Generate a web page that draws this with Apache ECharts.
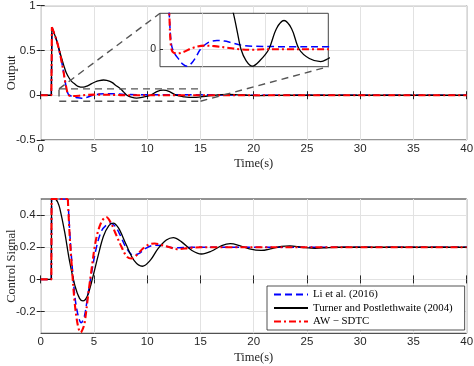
<!DOCTYPE html>
<html><head><meta charset="utf-8">
<script src="https://cdn.jsdelivr.net/npm/echarts@6/dist/echarts.min.js"></script>
<style>html,body{margin:0;padding:0;background:#fff}#c{width:474px;height:366px}</style>
</head><body><div id="c"></div>
<script>
// ---------- data ----------
const seriesNames = ['Li et al. (2016)', 'Turner and Postlethwaite (2004)', 'AW \u2212 SDTC'];
const timeTicks = [0, 5, 10, 15, 20, 25, 30, 35, 40];
const outputTicks = [-0.5, 0, 0.5, 1];
const controlTicks = [-0.2, 0, 0.2, 0.4];
const insetTicks = [0];
const insetXGrid = [5, 10];

const outputLi = [[0,0],[1,0],[1.05,0.76],[1.3,0.68],[1.5,0.61],[1.8,0.47],[2.1,0.29],[2.3,0.15],[2.45,0.06],[2.6,0.01],[2.8,-0.006],[3.2,-0.02],[3.5,-0.029],[3.85,-0.033],[4.2,-0.027],[4.5,-0.017],[4.9,0],[5.5,0.013],[6.2,0.017],[6.8,0.016],[7.3,0.013],[8.1,0.008],[9,0.006],[12,0.005],[15,0.005],[17,0.003],[20,0],[40,0]];
const outputTurner = [[0,0],[1,0],[1.05,0.76],[1.3,0.68],[1.5,0.61],[1.8,0.48],[2.0,0.40],[2.2,0.32],[2.4,0.25],[2.65,0.195],[2.9,0.155],[3.2,0.125],[3.5,0.10],[4.0,0.09],[4.4,0.105],[4.75,0.127],[5.1,0.148],[5.5,0.163],[5.9,0.17],[6.2,0.166],[6.5,0.155],[6.8,0.135],[7.0,0.115],[7.5,0.07],[7.8,0.035],[8.1,0.0],[8.5,-0.022],[9.0,-0.033],[9.6,-0.022],[10.3,0.0],[10.9,0.04],[11.5,0.056],[12.1,0.04],[12.7,0.0],[13.5,-0.018],[14.4,-0.024],[15,-0.018],[16,-0.005],[17,0.006],[17.6,0.008],[18.5,0.005],[19.5,0],[20.5,-0.004],[22,-0.002],[23,0],[40,0]];
const outputAW = [[0,0],[1,0],[1.05,0.76],[1.3,0.68],[1.5,0.61],[1.8,0.47],[2.1,0.29],[2.3,0.15],[2.45,0.06],[2.55,0.01],[2.7,-0.005],[3.1,-0.008],[3.6,-0.005],[4.2,0.002],[5.2,0.007],[6,0.006],[7,0.003],[8,0],[9,-0.001],[10,0],[40,0]];

const controlLi = [[0,0],[1,0],[1.02,0.5],[2.55,0.5],[2.62,0.42],[2.75,0.27],[2.9,0.13],[3.2,-0.1],[3.5,-0.22],[3.8,-0.27],[4.1,-0.23],[4.4,-0.11],[4.75,0.03],[5.2,0.19],[5.7,0.3],[6.2,0.34],[6.6,0.35],[7.0,0.33],[7.5,0.27],[8.0,0.2],[8.7,0.152],[9.2,0.16],[9.8,0.19],[10.6,0.212],[11.5,0.21],[12.5,0.197],[13.5,0.198],[15,0.2],[40,0.2]];
const controlTurner = [[0,0],[1,0],[1.02,0.5],[1.4,0.5],[1.6,0.48],[1.8,0.44],[2.25,0.295],[2.72,0.11],[3.2,-0.035],[3.65,-0.118],[3.97,-0.134],[4.4,-0.1],[4.9,0.016],[5.4,0.15],[5.9,0.27],[6.4,0.335],[6.8,0.35],[7.3,0.32],[8.0,0.22],[8.8,0.115],[9.55,0.082],[10.3,0.12],[11.0,0.19],[11.8,0.245],[12.45,0.26],[13.2,0.235],[14.2,0.18],[15.1,0.158],[16.0,0.175],[17.0,0.21],[17.8,0.222],[18.6,0.212],[19.6,0.19],[20.7,0.18],[21.7,0.192],[22.6,0.205],[23.4,0.208],[24.5,0.2],[25.8,0.193],[27,0.198],[28,0.2],[40,0.2]];
const controlAW = [[0,0],[1,0],[1.02,0.5],[2.55,0.5],[2.62,0.4],[2.75,0.24],[2.9,0.1],[3.2,-0.15],[3.5,-0.29],[3.75,-0.33],[4.0,-0.3],[4.15,-0.26],[4.45,-0.1],[4.75,0.05],[5.2,0.25],[5.7,0.357],[6.15,0.388],[6.6,0.35],[7.0,0.29],[7.5,0.215],[8.05,0.145],[8.5,0.13],[9.0,0.15],[9.6,0.192],[10.2,0.218],[10.7,0.223],[11.3,0.215],[12.1,0.2],[12.8,0.188],[14,0.196],[15,0.2],[40,0.2]];

// index from which each curve is drawn smoothed (the step before it stays sharp)
const outputSmoothFrom = [2, 2, 2];
const controlSmoothFrom = [3, 3, 3];

const zoomBox = [[1.72,0.071],[15,0.071],[15,-0.067],[1.72,-0.067],[1.72,0.071]];

// ---------- styles ----------
const AX = '#262626', GRIDC = '#e2e2e2';
const tickFont = {fontFamily: 'Liberation Sans', fontSize: 11.5, color: AX};
const nameFont = {fontFamily: 'Liberation Serif', fontSize: 12.5, color: AX};
const styles = [
  {color: '#0000ff', width: 1.5, type: [7, 4]},
  {color: '#000000', width: 1.3, type: 'solid'},
  {color: '#ff0000', width: 2.1, type: [7, 3, 2, 3]}
];
const inset = {left: 160, top: 13.3, width: 168.3, height: 53.4};

function xAx(grid, pos, main) {
  return {type: 'value', gridIndex: grid, position: pos, min: 0, max: 40, interval: 5,
    axisLine: {show: false}, axisTick: {show: true, inside: true, length: 4, lineStyle: {color: AX}},
    axisLabel: main ? Object.assign({show: true, margin: 2.5}, tickFont) : {show: false},
    splitLine: {show: main, lineStyle: {color: GRIDC, width: 1}},
    name: main ? 'Time(s)' : '', nameLocation: 'middle', nameGap: 17.5, nameMoveOverlap: false, nameTextStyle: nameFont};
}
function yAx(grid, pos, main, min, max, ticks, name) {
  return {type: 'value', gridIndex: grid, position: pos, min: min, max: max,
    axisLine: {show: false},
    axisTick: {show: true, inside: true, length: 4, customValues: ticks, lineStyle: {color: AX}},
    axisLabel: main ? Object.assign({show: true, margin: 5, customValues: ticks}, tickFont) : {show: false, customValues: ticks},
    splitLine: {show: main, lineStyle: {color: GRIDC, width: 1}},
    name: main ? name : '', nameLocation: 'middle', nameGap: 22, nameMoveOverlap: false, nameTextStyle: nameFont};
}
function lines(data, from, xi, yi, z) {
  const out = [];
  data.forEach((d, i) => {
    const base = {type: 'line', name: seriesNames[i], xAxisIndex: xi, yAxisIndex: yi,
      showSymbol: false, symbol: 'none', z: z, clip: true, animation: false, lineStyle: styles[i]};
    out.push(Object.assign({}, base, {data: d.slice(0, from[i] + 1), smooth: false}));
    out.push(Object.assign({}, base, {data: d.slice(from[i]), smooth: 0.35}));
  });
  return out;
}

const chart = echarts.init(document.getElementById('c'), null, {renderer: 'canvas'});
const gridBase = {show: true, borderWidth: 1, outerBoundsMode: 'none', containLabel: false};
const option = {
  animation: false,
  backgroundColor: '#fff',
  grid: [
    Object.assign({left: 40.7, top: 5.7, width: 426, height: 134.3, borderColor: AX, backgroundColor: 'transparent'}, gridBase),
    Object.assign({left: 40.7, top: 199, width: 426, height: 134.3, borderColor: AX, backgroundColor: 'transparent'}, gridBase),
    Object.assign({left: inset.left, top: inset.top, width: inset.width, height: inset.height, borderColor: '#444', backgroundColor: '#fff', z: 10}, gridBase)
  ],
  xAxis: [
    xAx(0, 'bottom', true), xAx(0, 'top', false),
    xAx(1, 'bottom', true), xAx(1, 'top', false),
    {type: 'value', gridIndex: 2, min: 1.7, max: 15, z: 11,
      axisLine: {show: false}, axisTick: {show: false, customValues: insetXGrid}, axisLabel: {show: false, customValues: insetXGrid},
      splitLine: {show: true, lineStyle: {color: GRIDC}}}
  ],
  yAxis: [
    yAx(0, 'left', true, -0.5, 1, outputTicks, 'Output'), yAx(0, 'right', false, -0.5, 1, outputTicks),
    yAx(1, 'left', true, -0.335, 0.5, controlTicks, 'Control Signal'), yAx(1, 'right', false, -0.335, 0.5, controlTicks),
    {type: 'value', gridIndex: 2, min: -0.034, max: 0.07, z: 11,
      axisLine: {show: false},
      axisTick: {show: true, inside: true, length: 3, customValues: insetTicks, lineStyle: {color: AX}},
      axisLabel: Object.assign({show: true, margin: 4, customValues: insetTicks}, tickFont, {fontSize: 10.5}),
      splitLine: {show: true, lineStyle: {color: GRIDC}}}
  ],
  legend: {
    data: seriesNames, orient: 'vertical', left: 267, top: 286,
    itemWidth: 34, itemHeight: 10, itemGap: 2.5,
    padding: [3, 12, 3, 6],
    itemStyle: {opacity: 0},
    backgroundColor: '#fff', borderColor: AX, borderWidth: 0.8, borderRadius: 0,
    textStyle: {fontFamily: 'Liberation Serif', fontSize: 10.8, color: '#000'}
  },
  series: [].concat(
    lines([outputLi, outputTurner, outputAW], outputSmoothFrom, 0, 0, 2),
    lines([controlLi, controlTurner, controlAW], controlSmoothFrom, 2, 2, 2),
    lines([outputLi, outputTurner, outputAW], outputSmoothFrom, 4, 4, 12),
    [{type: 'line', name: 'zoomBox', data: zoomBox, xAxisIndex: 0, yAxisIndex: 0, showSymbol: false, symbol: 'none', z: 3,
      lineStyle: {color: '#555', width: 1.4, type: [7, 5]}}]
  )
};
chart.setOption(option);
const p1 = chart.convertToPixel({xAxisIndex: 0, yAxisIndex: 0}, zoomBox[0]);
const p2 = chart.convertToPixel({xAxisIndex: 0, yAxisIndex: 0}, zoomBox[2]);
chart.setOption({graphic: [
  {type: 'line', z: 3, silent: true, shape: {x1: p1[0], y1: p1[1], x2: inset.left, y2: inset.top}, style: {stroke: '#555', lineWidth: 1.4, lineDash: [7, 5]}},
  {type: 'line', z: 3, silent: true, shape: {x1: p2[0], y1: p2[1], x2: inset.left + inset.width, y2: inset.top + inset.height}, style: {stroke: '#555', lineWidth: 1.4, lineDash: [7, 5]}}
]});
</script></body></html>
